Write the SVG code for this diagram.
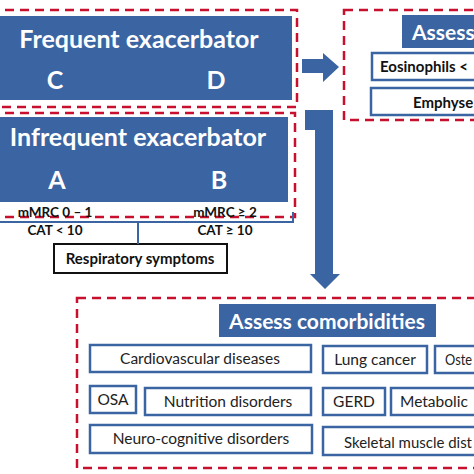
<svg xmlns="http://www.w3.org/2000/svg" width="474" height="474" viewBox="0 0 474 474">
<style>
.dash{fill:none;stroke:#c8102e;stroke-width:2.5;stroke-dasharray:9,6}
.blue{fill:#3b64a3}
.box{fill:#fff;stroke:#3b64a3;stroke-width:2.5}
.hd{font-family:Lato,"Open Sans",sans-serif;font-weight:bold;fill:#fff}
.lb{font-family:Lato,"Open Sans",sans-serif;font-weight:bold;fill:#111}
.tx{font-family:Lato,"Open Sans",sans-serif;fill:#222;font-size:15.5px}
</style>
<rect width="474" height="474" fill="#fff"/>
<g id="frequent">
<rect class="blue" x="-10" y="16" width="302" height="84"/>
<rect class="dash" x="-10" y="10" width="307" height="97"/>
<text class="hd" x="139" y="48" font-size="25" text-anchor="middle">Frequent exacerbator</text>
<text class="hd" x="55" y="89" font-size="25" text-anchor="middle">C</text>
<text class="hd" x="216" y="89" font-size="25" text-anchor="middle">D</text>
</g>
<g id="infrequent">
<rect class="blue" x="-10" y="117" width="298" height="85"/>
<rect class="dash" x="-10" y="113" width="305" height="104"/>
<text class="hd" x="138" y="146" font-size="25" text-anchor="middle">Infrequent exacerbator</text>
<text class="hd" x="57" y="189" font-size="25" text-anchor="middle">A</text>
<text class="hd" x="219" y="189" font-size="25" text-anchor="middle">B</text>
<text class="lb" x="55" y="217" font-size="13.5" text-anchor="middle">mMRC 0 – 1</text>
<text class="lb" x="225" y="217" font-size="13.5" text-anchor="middle">mMRC ≥ 2</text>
<text class="lb" x="55" y="235" font-size="13.5" text-anchor="middle">CAT &lt; 10</text>
<text class="lb" x="225" y="235" font-size="13.5" text-anchor="middle">CAT ≥ 10</text>
</g>
<g id="respiratory">
<rect x="54" y="244" width="173" height="29" fill="#fff" stroke="#111" stroke-width="2"/>
<text class="lb" x="140" y="264" font-size="15" text-anchor="middle">Respiratory symptoms</text>
</g>
<g id="assess-top">
<rect class="dash" x="344" y="10" width="140" height="110"/>
<rect class="blue" x="402" y="15" width="80" height="33"/>
<text class="hd" x="412" y="40" font-size="21">Assess</text>
<rect class="box" x="372" y="53" width="110" height="27"/>
<text class="lb" x="380" y="72" font-size="15">Eosinophils &lt;</text>
<rect class="box" x="371" y="88" width="110" height="27"/>
<text class="lb" x="413" y="108" font-size="15">Emphyse</text>
</g>
<g id="assess-comorbidities">
<rect class="dash" x="77" y="298" width="410" height="170"/>
<rect class="blue" x="219" y="304" width="217" height="33"/>
<text class="hd" x="327" y="329" font-size="21" text-anchor="middle">Assess comorbidities</text>
<rect class="box" x="90" y="345" width="221" height="27"/>
<text class="tx" x="200" y="364" text-anchor="middle">Cardiovascular diseases</text>
<rect class="box" x="323" y="346" width="104" height="27"/>
<text class="tx" x="375" y="365" text-anchor="middle">Lung cancer</text>
<rect class="box" x="435" y="346" width="50" height="27"/>
<text class="tx" x="445" y="365" textLength="27" lengthAdjust="spacingAndGlyphs">Oste</text>
<rect class="box" x="90" y="386" width="46" height="27"/>
<text class="tx" x="113" y="405" text-anchor="middle">OSA</text>
<rect class="box" x="145" y="388" width="166" height="27"/>
<text class="tx" x="228" y="407" text-anchor="middle">Nutrition disorders</text>
<rect class="box" x="323" y="388" width="62" height="27"/>
<text class="tx" x="354" y="407" text-anchor="middle">GERD</text>
<rect class="box" x="391" y="388" width="95" height="27"/>
<text class="tx" x="400" y="407">Metabolic</text>
<rect class="box" x="90" y="425" width="222" height="28"/>
<text class="tx" x="201" y="444" text-anchor="middle">Neuro-cognitive disorders</text>
<rect class="box" x="323" y="427" width="163" height="28"/>
<text class="tx" x="344" y="448" textLength="128" lengthAdjust="spacingAndGlyphs">Skeletal muscle dist</text>
</g>
<g id="connectors">
<path d="M0,222 H293 V212 M138,222 V244" fill="none" stroke="#3b64a3" stroke-width="2"/>
<polygon class="blue" points="302,59 323,59 323,53 339,67 323,82 323,73 302,73"/>
<polygon class="blue" points="305,110 333,110 333,274 340,274 325,289 310,274 315,274 315,130 305,130"/>
</g>
</svg>
